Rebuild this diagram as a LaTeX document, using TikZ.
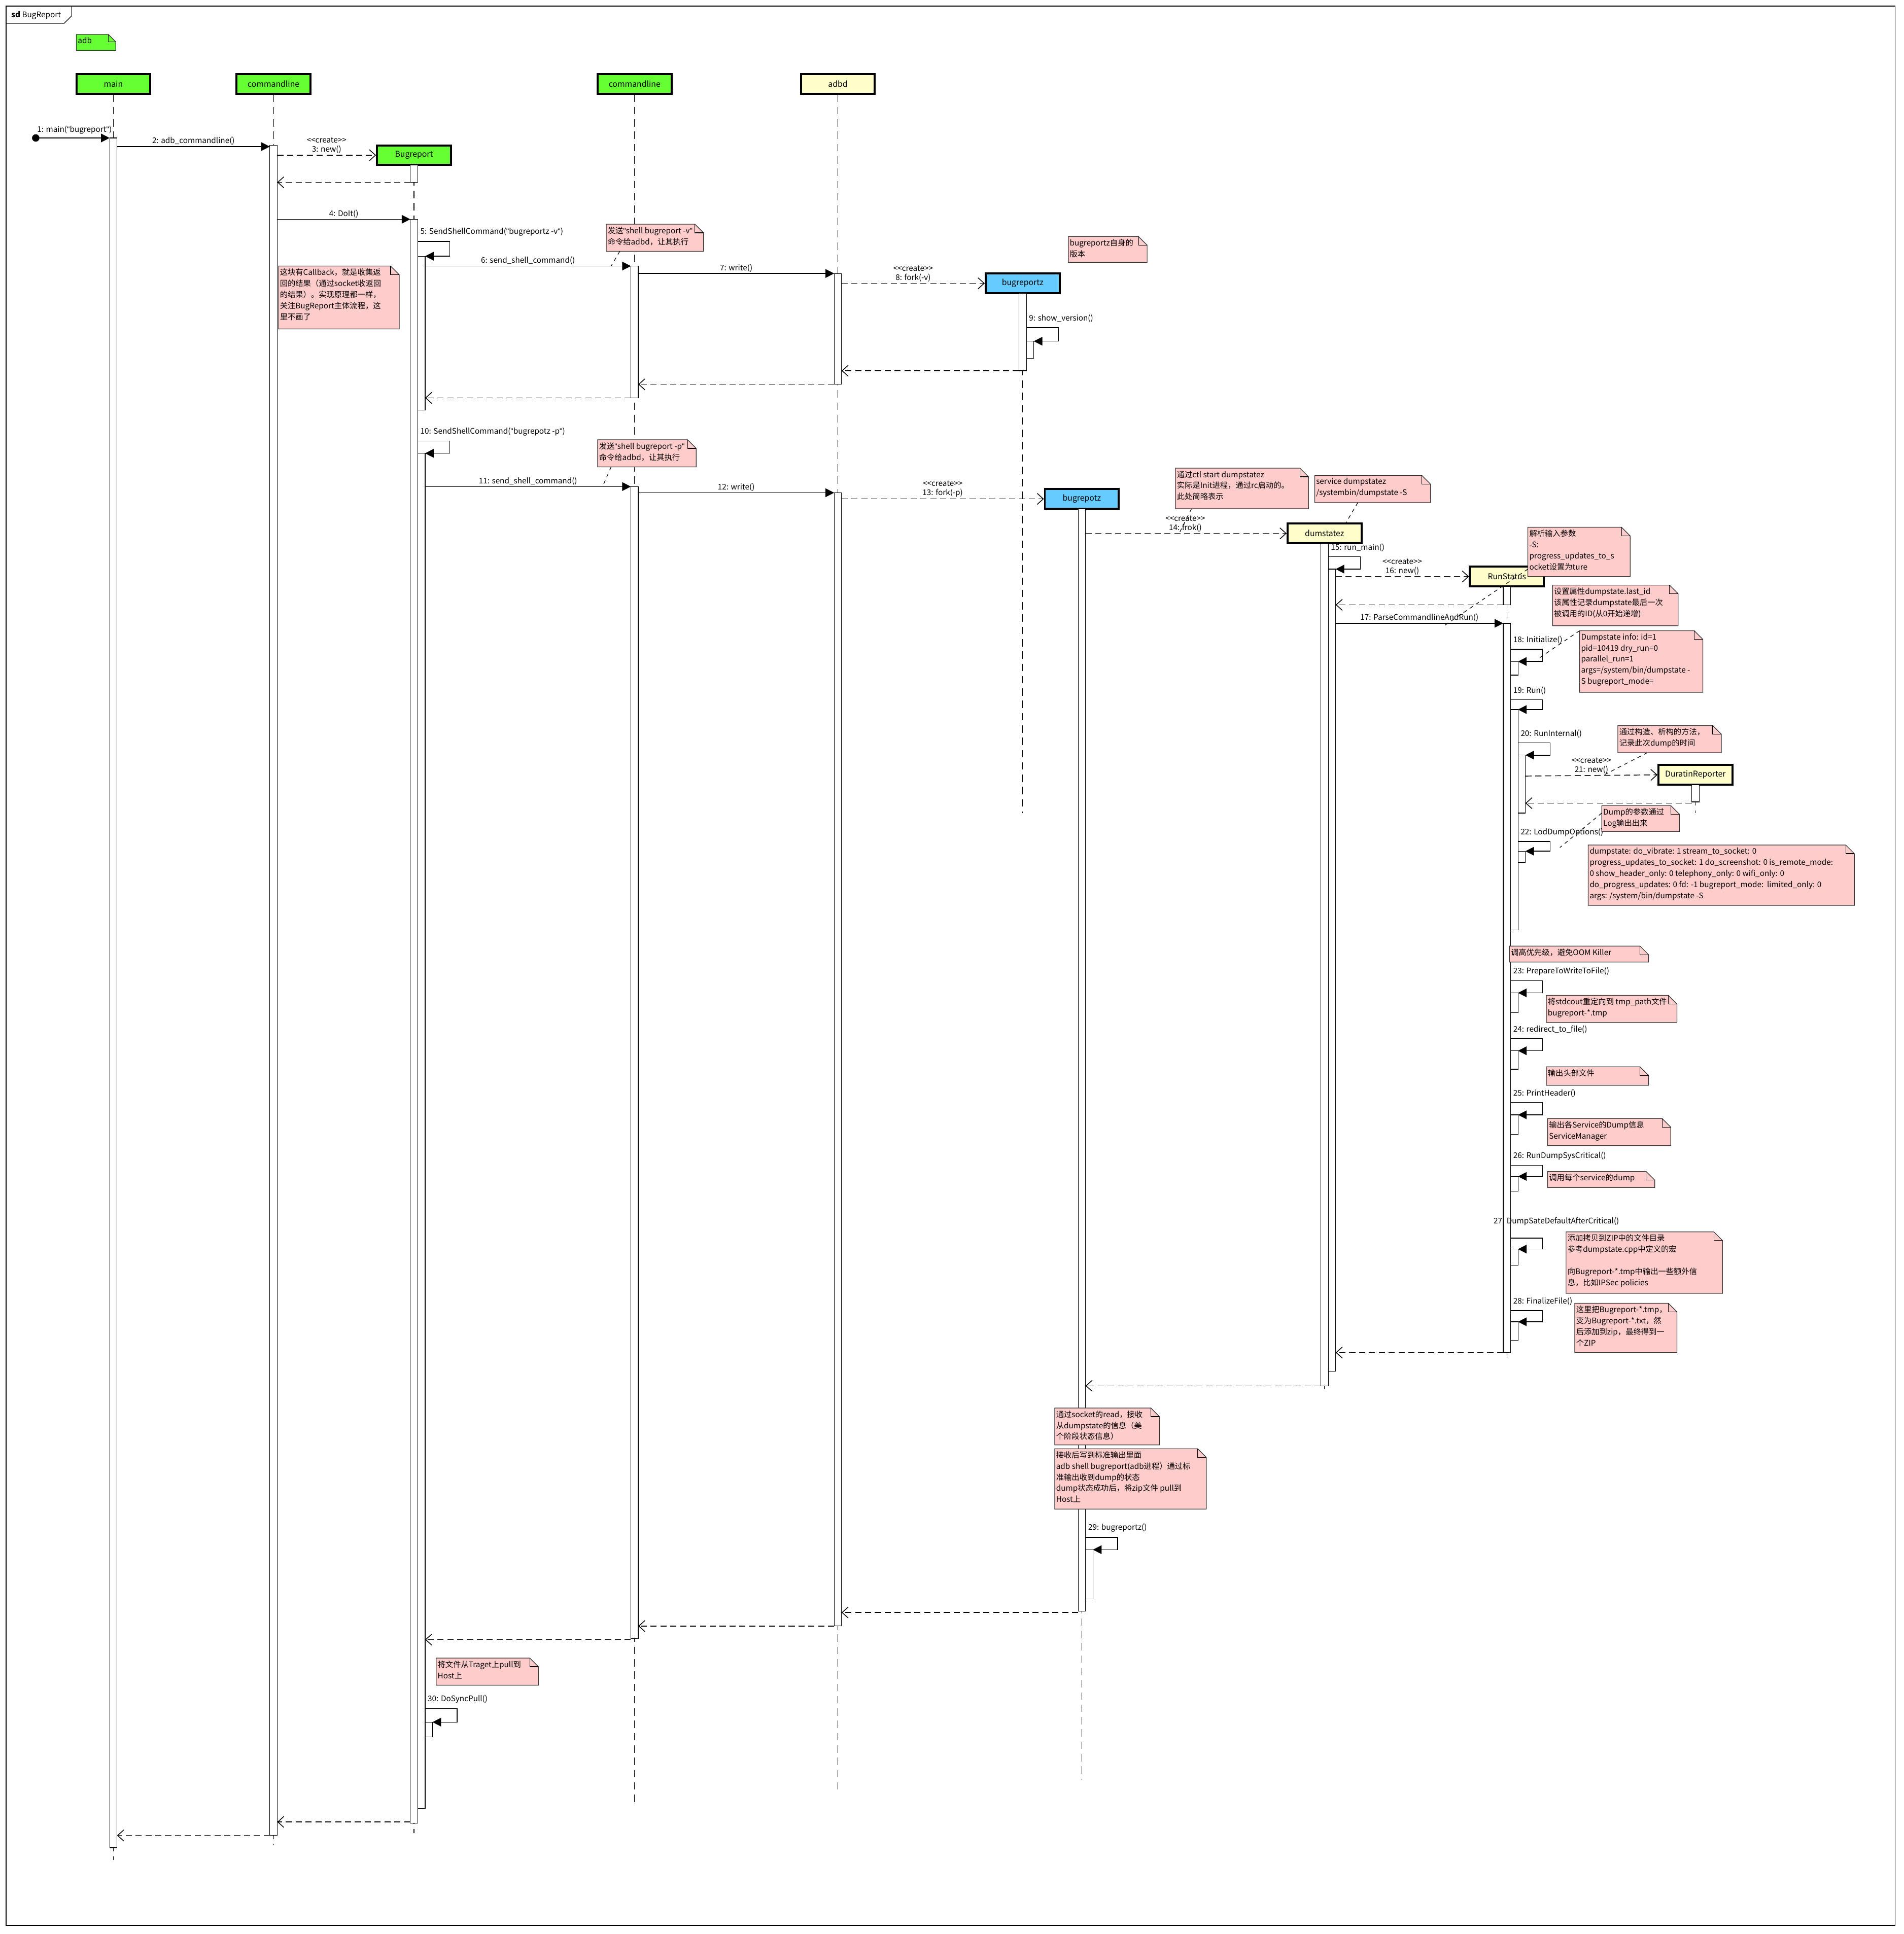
\documentclass[tikz,border=0pt]{standalone}
\usepackage{fontspec}
\setmainfont{Noto Sans CJK SC}
\newfontfamily\lat{Liberation Sans}
\newcommand\qq{{\lat\char34}}
\newcommand\cre{<\kern0pt<create>\kern0pt>}
\usetikzlibrary{arrows.meta}
\definecolor{notepink}{RGB}{255,204,204}
\definecolor{lgreen}{RGB}{102,255,51}
\definecolor{lcream}{RGB}{255,255,204}
\definecolor{lblue}{RGB}{102,204,255}
\tikzset{
  lifeline/.style={draw, line width=1.6pt, minimum width=60pt, minimum height=16pt, inner sep=0pt, font=\fontsize{6.5}{8}\selectfont},
  life/.style={dash pattern=on 6pt off 4pt, line width=0.5pt},
  msg/.style={-{Triangle[length=7pt,width=7pt]}, line width=0.6pt},
  ret/.style={-{Straight Barb[length=5pt,width=9pt]}, dash pattern=on 5pt off 3pt, line width=0.6pt},
  lbl/.style={font=\fontsize{6.3}{7.5}\selectfont, inner sep=1pt},
  notebox/.style={fill=notepink, draw=black!80, line width=0.5pt},
  notetxt/.style={anchor=north west, align=left, inner sep=1pt, font=\fontsize{6.3}{9}\selectfont},
  link/.style={dash pattern=on 3pt off 3pt, line width=0.5pt}
}
\newcommand\actbar[3]{\draw[fill=white, line width=0.5pt] (#1-3,#2) rectangle (#1+3,#3);}
\newcommand\selfcall[5]{%
  \draw[fill=white, line width=0.5pt] (#1,#3) rectangle (#1+6,#4);
  \draw[msg] (#1,#2) -- (#1+26,#2) -- (#1+26,#3) -- (#1+6,#3);
  \node[lbl, anchor=south west] at (#1+1,#2-3) {#5};}
\newcommand\notebx[5]{%
  \draw[notebox] (#1,#2) -- (#3-7,#2) -- (#3,#2+7) -- (#3,#4) -- (#1,#4) -- cycle;
  \draw[line width=0.5pt] (#3-7,#2) -- (#3-7,#2+7) -- (#3,#2+7);
  \node[notetxt] at (#1,#2+1) {#5};}
\begin{document}
\begin{tikzpicture}[x=1pt,y=-1pt]
\useasboundingbox[fill=white] (0,0) rectangle (1545,1570);
% frame
\draw[line width=0.6pt] (5,5) rectangle (1538,1563);
\draw[line width=0.5pt] (5,19) -- (52,19) -- (58,13) -- (58,5);
\node[lbl, anchor=west] at (8,12.5) {\textbf{sd} BugReport};
% adb note
\draw[fill=lgreen, draw=black!80, line width=0.5pt] (62,28) -- (88,28) -- (94,34) -- (94,41) -- (62,41) -- cycle;
\draw[line width=0.5pt] (88,28) -- (88,34) -- (94,34);
\node[lbl, anchor=north west] at (62,29) {adb};
% lifeline heads
\node[lifeline, fill=lgreen] (main) at (92,68) {main};
\node[lifeline, fill=lgreen] (cmd1) at (222,68) {commandline};
\node[lifeline, fill=lgreen] (cmd2) at (515,68) {commandline};
\node[lifeline, fill=lcream] (adbd) at (680,68) {adbd};
\node[lifeline, fill=lgreen] (bugr) at (336,126) {Bugreport};
\node[lifeline, fill=lblue] (bz1) at (830,230) {bugreportz};
\node[lifeline, fill=lblue] (bz2) at (878,405) {bugrepotz};
\node[lifeline, fill=lcream] (dz) at (1075,433) {dumstatez};
\node[lifeline, fill=lcream] (rs) at (1223,468) {RunStatus};
\node[lifeline, fill=lcream] (dr) at (1376,629) {DuratinReporter};
% lifelines
\draw[life] (main.south) -- (92,1510);
\draw[life] (cmd1.south) -- (222,1498);
\draw[life] (cmd2.south) -- (515,1465);
\draw[life] (adbd.south) -- (680,1455);
\draw[life] (bugr.south) -- (336,1488);
\draw[life] (bz1.south) -- (830,660);
\draw[life] (bz2.south) -- (878,1445);
\draw[life] (dz.south) -- (1075,1130);
\draw[life] (rs.south) -- (1223,1105);
\draw[life] (dr.south) -- (1376,660);
% activations
\actbar{92}{112}{1500}
\actbar{222}{118}{1490}
\actbar{336}{134}{148}
\actbar{336}{178}{1480}
\actbar{515}{216}{323}
\actbar{515}{395}{1330}
\actbar{680}{222}{312}
\actbar{680}{400}{1320}
\actbar{830}{238}{301}
\actbar{878}{413}{1308}
\actbar{1075}{441}{1125}
\actbar{1223}{476}{491}
\actbar{1223}{506}{1098}
\actbar{1376}{637}{651}
% self calls
\selfcall{339}{196}{208}{333}{5: SendShellCommand(\qq bugreportz -v\qq)}
\selfcall{339}{358}{368}{1468}{10: SendShellCommand(\qq bugrepotz -p\qq)}
\selfcall{345}{1387}{1398}{1410}{30: DoSyncPull()}
\selfcall{833}{266}{277}{291}{9: show\_version()}
\selfcall{881}{1248}{1258}{1298}{29: bugreportz()}
\selfcall{1078}{452}{462}{1113}{15: run\_main()}
\selfcall{1226}{527}{537}{548}{18: Initialize()}
\selfcall{1226}{568}{576}{755}{19: Run()}
\selfcall{1232}{603}{613}{660}{20: RunInternal()}
\selfcall{1232}{683}{691}{700}{22: LodDumpOptions()}
\selfcall{1226}{796}{806}{822}{23: PrepareToWriteToFile()}
\selfcall{1226}{843}{853}{868}{24: redirect\_to\_file()}
\selfcall{1226}{895}{905}{921}{25: PrintHeader()}
\selfcall{1226}{946}{955}{967}{26: RunDumpSysCritical()}
\selfcall{1226}{1005}{1014}{1027}{}
\node[lbl, anchor=south west] at (1211,996) {27: DumpSateDefaultAfterCritical()};
\selfcall{1226}{1064}{1073}{1088}{28: FinalizeFile()}
% messages
\fill (29,112) circle (3);
\draw[msg] (29,112) -- (89,112);
\node[lbl, anchor=south west] at (29,110) {1: main(\qq bugreport\qq)};
\draw[msg] (95,119) -- (219,119) node[lbl, midway, above] {2: adb\_commandline()};
\draw[ret] (225,126) -- (bugr.west) node[lbl, midway, above, align=center] {\cre\\3: new()};
\draw[ret] (333,148) -- (225,148);
\draw[msg] (225,178) -- (333,178) node[lbl, midway, above] {4: DoIt()};
\draw[msg] (345,216) -- (512,216) node[lbl, midway, above] {6: send\_shell\_command()};
\draw[msg] (518,222) -- (677,222) node[lbl, midway, above] {7: write()};
\draw[ret] (683,230) -- (bz1.west) node[lbl, midway, above, align=center] {\cre\\8: fork(-v)};
\draw[ret] (827,301) -- (683,301);
\draw[ret] (677,312) -- (518,312);
\draw[ret] (512,323) -- (345,323);
\draw[msg] (345,395) -- (512,395) node[lbl, midway, above] {11: send\_shell\_command()};
\draw[msg] (518,400) -- (677,400) node[lbl, midway, above] {12: write()};
\draw[ret] (683,405) -- (bz2.west) node[lbl, midway, above, align=center] {\cre\\13: fork(-p)};
\draw[ret] (881,433) -- (dz.west);
\node[lbl, align=center, anchor=south] at (962,433) {\cre\\14: frok()};
\draw[ret] (1084,468) -- (rs.west) node[lbl, midway, above, align=center] {\cre\\16: new()};
\draw[ret] (1220,491) -- (1084,491);
\draw[msg] (1084,506) -- (1220,506) node[lbl, midway, above] {17: ParseCommandlineAndRun()};
\draw[ret] (1238,630) -- (dr.west) node[lbl, midway, above, align=center] {\cre\\21: new()};
\draw[ret] (1373,652) -- (1238,652);
\draw[ret] (1220,1098) -- (1084,1098);
\draw[ret] (1072,1125) -- (881,1125);
\draw[ret] (875,1309) -- (683,1309);
\draw[ret] (677,1320) -- (518,1320);
\draw[ret] (512,1331) -- (345,1331);
\draw[ret] (333,1479) -- (225,1479);
\draw[ret] (219,1490) -- (95,1490);
% notes
\notebx{226}{216}{324}{267}{这块有Callback，就是收集返\\回的结果（通过socket收返回\\的结果）。实现原理都一样，\\关注BugReport主体流程，这\\里不画了}
\notebx{492}{182}{571}{204}{发送\qq shell bugreport -v\qq\\命令给adbd，让其执行}
\draw[link] (503,204) -- (496,216);
\notebx{867}{192}{931}{213}{bugreportz自身的\\版本}
\notebx{485}{357}{565}{379}{发送\qq shell bugreport -p\qq\\命令给adbd，让其执行}
\draw[link] (496,379) -- (489,395);
\notebx{954}{380}{1062}{413}{通过ctl start dumpstatez\\实际是Init进程，通过rc启动的。\\此处简略表示}
\draw[link] (967,413) -- (957,433);
\notebx{1067}{386}{1161}{408}{service dumpstatez\\/systembin/dumpstate -S}
\draw[link] (1102,408) -- (1092,425);
\notebx{1240}{428}{1323}{468}{解析输入参数\\-S:\\progress\_updates\_to\_s\\ocket设置为ture}
\draw[link] (1240,462) -- (1172,508);
\notebx{1260}{475}{1362}{508}{设置属性dumpstate.last\_id\\该属性记录dumpstate最后一次\\被调用的ID(从0开始递增)}
\draw[link] (1282,512) -- (1248,535);
\notebx{1282}{512}{1382}{562}{Dumpstate info: id=1\\pid=10419 dry\_run=0\\parallel\_run=1\\args=/system/bin/dumpstate -\\S bugreport\_mode=}
\draw[link] (1337,611) -- (1300,630);
\notebx{1313}{589}{1397}{611}{通过构造、析构的方法，\\记录此次dump的时间}
\notebx{1300}{654}{1363}{675}{Dump的参数通过\\Log输出出来}
\draw[link] (1300,660) -- (1266,688);
\notebx{1289}{686}{1505}{735}{dumpstate: do\_vibrate: 1 stream\_to\_socket: 0\\progress\_updates\_to\_socket: 1 do\_screenshot: 0 is\_remote\_mode:\\0 show\_header\_only: 0 telephony\_only: 0 wifi\_only: 0\\do\_progress\_updates: 0 fd: -1 bugreport\_mode:\ \ limited\_only: 0\\args: /system/bin/dumpstate -S}
\notebx{1225}{768}{1338}{781}{调高优先级，避免OOM Killer}
\notebx{1255}{808}{1361}{830}{将stdcout重定向到 tmp\_path文件\\bugreport-*.tmp}
\notebx{1255}{866}{1338}{881}{输出头部文件}
\notebx{1256}{908}{1356}{930}{输出各Service的Dump信息\\ServiceManager}
\notebx{1256}{951}{1343}{964}{调用每个service的dump}
\notebx{1271}{1000}{1398}{1050}{添加拷贝到ZIP中的文件目录\\参考dumpstate.cpp中定义的宏\\\mbox{}\\向Bugreport-*.tmp中输出一些额外信\\息，比如IPSec policies}
\notebx{1278}{1058}{1361}{1098}{这里把Bugreport-*.tmp，\\变为Bugreport-*.txt，然\\后添加到zip，最终得到一\\个ZIP}
\notebx{856}{1143}{941}{1173}{通过socket的read，接收\\从dumpstate的信息（美\\个阶段状态信息）}
\notebx{856}{1176}{979}{1225}{接收后写到标准输出里面\\adb shell bugreport(adb进程）通过标\\准输出收到dump的状态\\dump状态成功后，将zip文件 pull到\\Host上}
\notebx{354}{1346}{437}{1368}{将文件从Traget上pull到\\Host上}
\end{tikzpicture}
\end{document}
